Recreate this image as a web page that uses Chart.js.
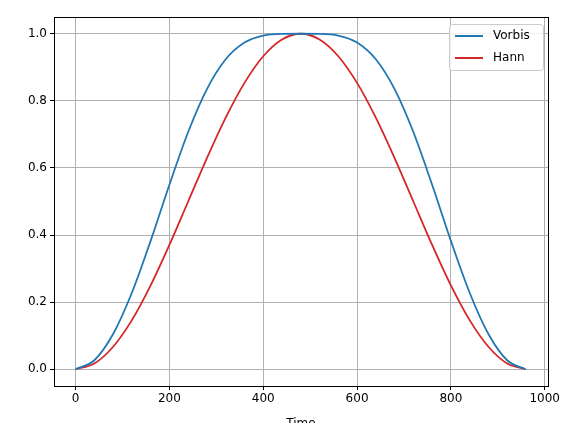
<!DOCTYPE html>
<html><head><meta charset="utf-8">
<script src="https://cdn.jsdelivr.net/npm/chart.js@4/dist/chart.umd.min.js"></script>
<style>html,body{margin:0;padding:0;background:#fff}#w{width:577px;height:423px}</style>
</head><body><div id="w"><canvas id="c" width="577" height="423"></canvas></div>
<script>
const timeSamples=[0,40,80,120,160,200,240,280,320,360,400,440,480,520,560,600,640,680,720,760,800,840,880,920,959];
const vorbisValues=[0,0.0267,0.1050,0.2280,0.3827,0.5498,0.7071,0.8351,0.9239,0.9737,0.9945,0.9996,1,0.9996,0.9945,0.9737,0.9239,0.8351,0.7071,0.5498,0.3827,0.2280,0.1050,0.0267,0];
const hannValues=[0,0.0170,0.0670,0.1464,0.25,0.3706,0.5,0.6294,0.75,0.8536,0.9330,0.9830,1,0.9830,0.9330,0.8536,0.75,0.6294,0.5,0.3706,0.25,0.1464,0.0670,0.0170,0];
const seriesNames=['Vorbis','Hann'];
const seriesColors=['#1f77b4','#d62728'];
const font={family:'DejaVu Sans',size:12};
const pts=v=>timeSamples.map((x,i)=>({x,y:v[i]}));
const overlay={id:'ov',afterDraw(ch){const c=ch.ctx,a=ch.chartArea;c.save();
c.strokeStyle='#000';c.lineWidth=1;c.strokeRect(a.left+0.5,a.top+0.5,a.right-a.left,a.bottom-a.top);
c.font='12px DejaVu Sans';c.fillStyle='#000';c.textAlign='center';c.textBaseline='alphabetic';c.fillText('Time',(a.left+a.right)/2,427);
const lx=449,ly=24,lw=94,lh=46;c.fillStyle='rgba(255,255,255,0.8)';c.strokeStyle='#ccc';
c.beginPath();c.roundRect(lx+0.5,ly+0.5,lw,lh,3);c.fill();c.stroke();
c.textAlign='left';c.textBaseline='middle';
seriesNames.forEach((n,i)=>{const y=ly+12+i*22;c.strokeStyle=seriesColors[i];c.lineWidth=2;c.beginPath();c.moveTo(lx+6,y);c.lineTo(lx+34,y);c.stroke();c.fillStyle='#000';c.fillText(n,lx+44,y);});
c.restore();}};
new Chart(document.getElementById('c'),{type:'line',
data:{datasets:[{label:seriesNames[0],data:pts(vorbisValues),borderColor:seriesColors[0],borderWidth:1.8,pointRadius:0,cubicInterpolationMode:'monotone'},
{label:seriesNames[1],data:pts(hannValues),borderColor:seriesColors[1],borderWidth:1.8,pointRadius:0,cubicInterpolationMode:'monotone'}]},
options:{responsive:false,animation:false,layout:{padding:{left:0,right:29,top:17,bottom:0}},
plugins:{legend:{display:false},tooltip:{enabled:false}},
scales:{x:{type:'linear',min:-46,max:1007,afterFit(s){s.height=37},afterBuildTicks(s){s.ticks=[0,200,400,600,800,1000].map(v=>({value:v}))},
grid:{color:'#b0b0b0',tickColor:'#000',tickLength:4,drawTicks:true},border:{display:false},ticks:{color:'#000',font,padding:2,maxRotation:0,callback:v=>String(v)}},
y:{min:-0.05,max:1.05,afterFit(s){s.width=54},afterBuildTicks(s){s.ticks=[0,0.2,0.4,0.6,0.8,1].map(v=>({value:v}))},
grid:{color:'#b0b0b0',tickColor:'#000',tickLength:4},border:{display:false},ticks:{color:'#000',font,padding:3,callback:v=>v.toFixed(1)}}}},
plugins:[overlay]});
</script></body></html>
